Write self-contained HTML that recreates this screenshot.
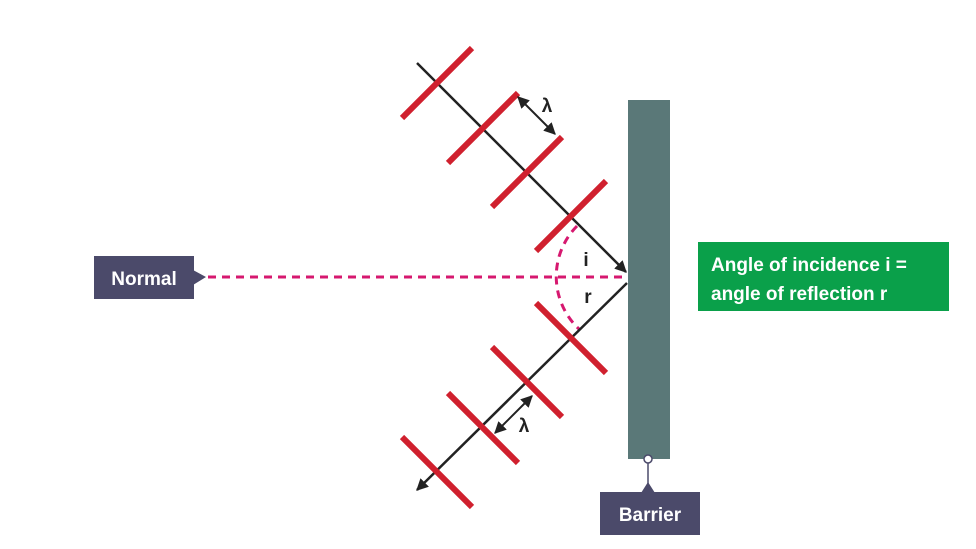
<!DOCTYPE html>
<html><head><meta charset="utf-8"><style>
html,body{margin:0;padding:0;background:#fff;}
svg{display:block;}
text{font-family:"Liberation Sans",Arial,sans-serif;font-weight:bold;}
</style></head><body>
<svg width="976" height="549" viewBox="0 0 976 549" xmlns="http://www.w3.org/2000/svg">
<defs>
<marker id="ah" viewBox="0 0 10 10" refX="9" refY="5" markerWidth="5" markerHeight="5" orient="auto-start-reverse" markerUnits="userSpaceOnUse" style="overflow:visible">
<path d="M0,0 L10,5 L0,10 z" fill="#222"/>
</marker>
<marker id="ah2" viewBox="0 0 10 10" refX="9" refY="5" markerWidth="12" markerHeight="12" orient="auto-start-reverse" markerUnits="userSpaceOnUse">
<path d="M0,0 L10,5 L0,10 z" fill="#222"/>
</marker>
</defs>
<!-- barrier -->
<rect x="628" y="100" width="42" height="359" fill="#5a7878"/>
<line x1="648" y1="463" x2="648" y2="485" stroke="#4b4a6a" stroke-width="1.5"/>
<circle cx="648" cy="459" r="4" fill="#fff" stroke="#4b4a6a" stroke-width="1.5"/>
<path d="M641,493 L648,482 L655,493 z" fill="#4b4a6a"/>
<rect x="600" y="492" width="100" height="43" fill="#4b4a6a"/>
<text x="650" y="521" fill="#fff" font-size="19" text-anchor="middle">Barrier</text>
<!-- normal -->
<rect x="94" y="256" width="100" height="43" fill="#4b4a6a"/>
<path d="M193,270 L206,277 L193,285 z" fill="#4b4a6a"/>
<text x="144" y="285" fill="#fff" font-size="19" text-anchor="middle">Normal</text>
<line x1="208" y1="277" x2="626" y2="277" stroke="#d6186f" stroke-width="3" stroke-dasharray="8,6"/>
<path d="M577,226 A72,72 0 0 0 580,330" fill="none" stroke="#d6186f" stroke-width="3" stroke-dasharray="8,6"/>
<!-- rays -->
<line x1="417" y1="63" x2="626" y2="272" stroke="#222" stroke-width="2.5" marker-end="url(#ah2)"/>
<line x1="627" y1="283" x2="417" y2="490" stroke="#222" stroke-width="2.5" marker-end="url(#ah2)"/>
<!-- red wavefronts incident -->
<g stroke="#d0202e" stroke-width="6">
<line x1="402" y1="118" x2="472" y2="48"/>
<line x1="448" y1="163" x2="518" y2="93"/>
<line x1="492" y1="207" x2="562" y2="137"/>
<line x1="536" y1="251" x2="606" y2="181"/>
<line x1="536" y1="303" x2="606" y2="373"/>
<line x1="492" y1="347" x2="562" y2="417"/>
<line x1="448" y1="393" x2="518" y2="463"/>
<line x1="402" y1="437" x2="472" y2="507"/>
</g>
<!-- lambda arrows -->
<line x1="518" y1="97" x2="555" y2="134" stroke="#222" stroke-width="2" marker-start="url(#ah2)" marker-end="url(#ah2)"/>
<line x1="532" y1="396" x2="495" y2="433" stroke="#222" stroke-width="2" marker-start="url(#ah2)" marker-end="url(#ah2)"/>
<text x="547" y="112" font-size="19" fill="#222" text-anchor="middle">λ</text>
<text x="524" y="432" font-size="19" fill="#222" text-anchor="middle">λ</text>
<text x="586" y="266" font-size="19" fill="#222" text-anchor="middle">i</text>
<text x="588" y="303" font-size="19" fill="#222" text-anchor="middle">r</text>
<!-- green box -->
<rect x="698" y="242" width="251" height="69" fill="#0aa04a"/>
<text x="711" y="271" fill="#fff" font-size="19">Angle of incidence i =</text>
<text x="711" y="300" fill="#fff" font-size="19">angle of reflection r</text>
</svg>
</body></html>
